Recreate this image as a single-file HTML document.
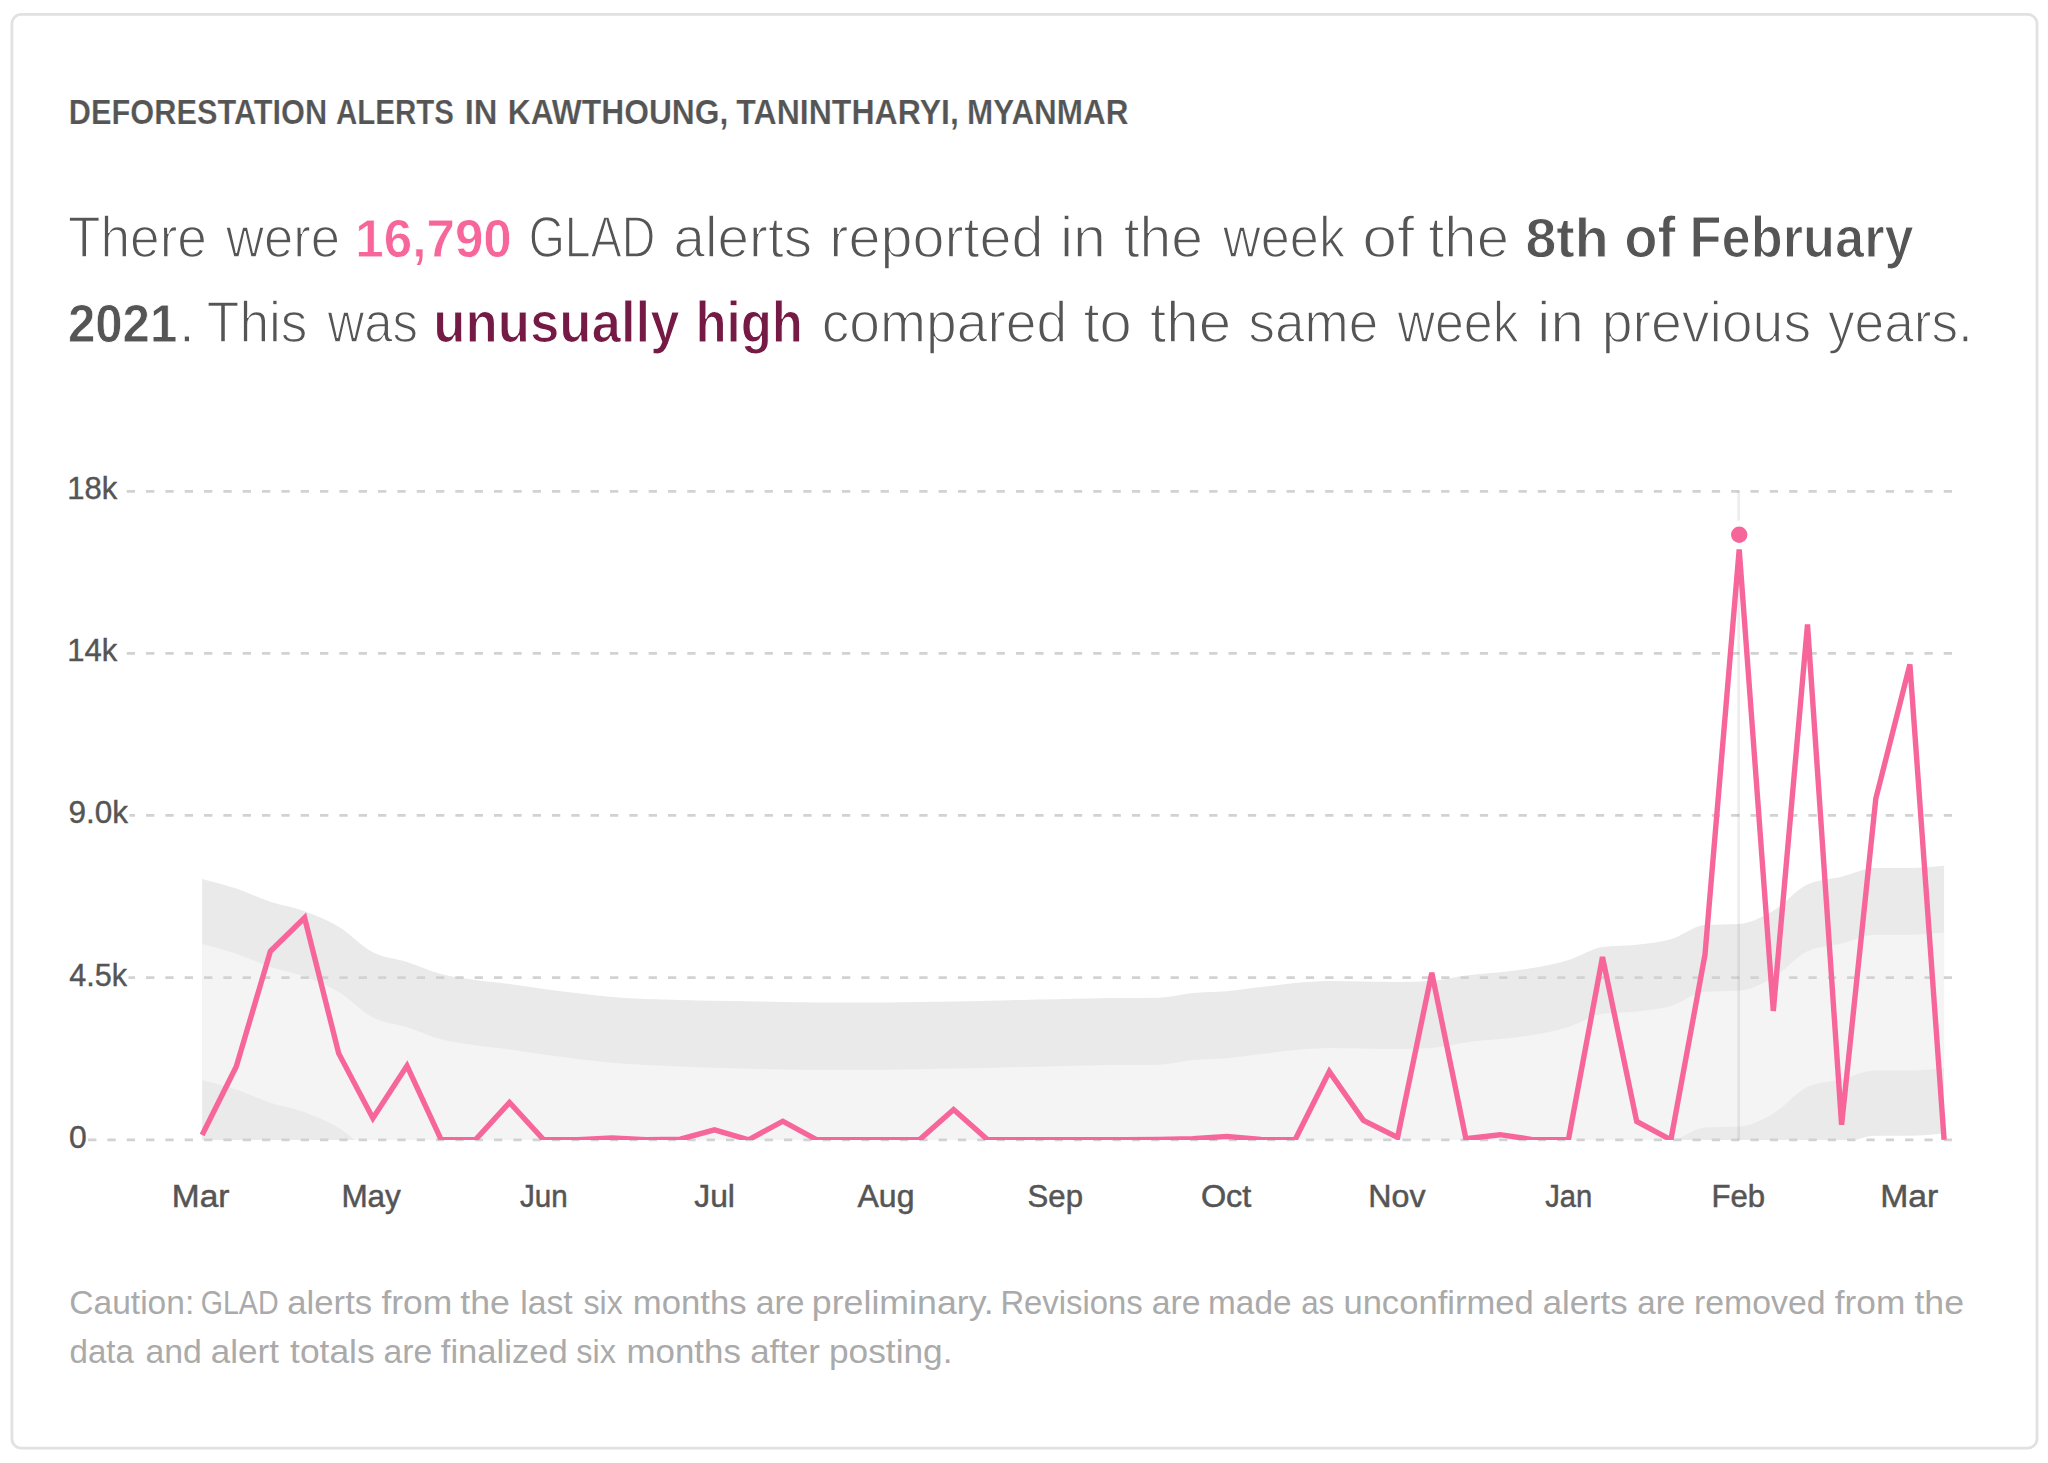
<!DOCTYPE html>
<html lang="en">
<head>
<meta charset="utf-8">
<title>Deforestation alerts in Kawthoung, Tanintharyi, Myanmar</title>
<style>
html,body{margin:0;padding:0;background:#fff;}
body{width:2048px;height:1463px;position:relative;overflow:hidden;font-family:"Liberation Sans",sans-serif;}
svg{position:absolute;left:0;top:0;}
svg text{font-family:"Liberation Sans",sans-serif;white-space:pre;}
</style>
</head>
<body>
<svg width="2048" height="1463" viewBox="0 0 2048 1463">
<rect id="card" x="11.9" y="14.35" width="2025.1" height="1433.8" rx="9.5" ry="9.5" fill="#fff" stroke="#e1e1e1" stroke-width="2.75"/>
<clipPath id="plot"><rect x="60" y="400" width="1940" height="740.0"/></clipPath>
<g id="bands" clip-path="url(#plot)">
<path d="M202.1,878.9C213.5,881.8 224.9,884.7 236.3,888.5C247.6,892.3 259.0,897.9 270.4,901.7C281.8,905.4 293.2,907.0 304.6,911.2C316.0,915.3 327.3,919.8 338.7,926.7C350.1,933.6 361.5,946.5 372.9,952.3C384.3,958.2 395.7,958.4 407.0,962.0C418.4,965.6 429.8,971.1 441.2,974.1C452.6,977.1 464.0,978.4 475.4,980.1C486.7,981.8 498.1,982.6 509.5,984.1C520.9,985.6 532.3,987.5 543.7,989.1C555.1,990.6 566.4,992.0 577.8,993.3C589.2,994.6 600.6,996.0 612.0,996.9C623.4,997.8 634.8,998.5 646.1,999.0C657.5,999.5 668.9,999.6 680.3,999.9C691.7,1000.2 703.1,1000.5 714.5,1000.7C725.8,1000.9 737.2,1000.9 748.6,1001.2C760.0,1001.4 771.4,1001.9 782.8,1002.1C794.2,1002.3 805.5,1002.4 816.9,1002.4C828.3,1002.4 839.7,1002.5 851.1,1002.5C862.5,1002.5 873.9,1002.5 885.2,1002.4C896.6,1002.4 908.0,1002.1 919.4,1001.9C930.8,1001.7 942.2,1001.6 953.6,1001.4C964.9,1001.2 976.3,1001.0 987.7,1000.7C999.1,1000.5 1010.5,1000.2 1021.9,999.9C1033.3,999.7 1044.6,999.4 1056.0,999.2C1067.4,998.9 1078.8,998.6 1090.2,998.4C1101.6,998.2 1113.0,998.2 1124.3,998.1C1135.7,998.0 1147.1,998.0 1158.5,997.8C1169.9,997.6 1181.3,994.1 1192.7,993.0C1204.0,991.9 1215.4,992.2 1226.8,991.2C1238.2,990.2 1249.6,988.5 1261.0,987.1C1272.4,985.8 1283.7,984.1 1295.1,983.0C1306.5,982.0 1317.9,981.0 1329.3,981.0C1340.7,981.0 1352.1,981.3 1363.4,981.5C1374.8,981.7 1386.2,982.1 1397.6,982.1C1409.0,982.1 1420.4,981.7 1431.8,981.0C1443.1,980.3 1454.5,976.9 1465.9,975.5C1477.3,974.0 1488.7,973.5 1500.1,972.2C1511.5,970.9 1522.8,969.8 1534.2,967.8C1545.6,965.8 1557.0,963.6 1568.4,960.1C1579.8,956.6 1591.2,948.4 1602.5,946.9C1613.9,945.5 1625.3,946.0 1636.7,944.7C1648.1,943.4 1659.5,942.5 1670.9,939.2C1682.2,935.9 1693.6,925.7 1705.0,924.9C1716.4,924.2 1727.8,924.6 1739.2,923.9C1750.6,923.1 1761.9,917.3 1773.3,910.7C1784.7,904.2 1796.1,889.5 1807.5,884.4C1818.9,879.2 1830.3,879.4 1841.6,876.7C1853.0,873.9 1864.4,867.9 1875.8,867.9C1887.2,867.9 1898.6,867.9 1909.9,867.9C1921.3,867.9 1932.7,866.8 1944.1,865.7L1944.1,1133.5C1932.7,1134.6 1921.3,1135.7 1909.9,1135.7C1898.6,1135.7 1887.2,1135.7 1875.8,1135.7C1864.4,1135.7 1853.0,1141.7 1841.6,1144.5C1830.3,1147.2 1818.9,1147.1 1807.5,1152.2C1796.1,1157.4 1784.7,1172.0 1773.3,1178.6C1761.9,1185.2 1750.6,1191.0 1739.2,1191.7C1727.8,1192.4 1716.4,1192.1 1705.0,1192.8C1693.6,1193.5 1682.2,1203.8 1670.9,1207.1C1659.5,1210.4 1648.1,1211.3 1636.7,1212.6C1625.3,1213.9 1613.9,1213.3 1602.5,1214.8C1591.2,1216.3 1579.8,1224.5 1568.4,1228.0C1557.0,1231.5 1545.6,1233.7 1534.2,1235.7C1522.8,1237.7 1511.5,1238.8 1500.1,1240.1C1488.7,1241.4 1477.3,1241.9 1465.9,1243.4C1454.5,1244.9 1443.1,1248.2 1431.8,1248.9C1420.4,1249.6 1409.0,1250.0 1397.6,1250.0C1386.2,1250.0 1374.8,1249.6 1363.4,1249.4C1352.1,1249.3 1340.7,1248.9 1329.3,1248.9C1317.9,1248.9 1306.5,1250.0 1295.1,1251.0C1283.7,1252.0 1272.4,1253.7 1261.0,1255.1C1249.6,1256.5 1238.2,1258.2 1226.8,1259.2C1215.4,1260.2 1204.0,1259.9 1192.7,1261.0C1181.3,1262.1 1169.9,1265.6 1158.5,1265.8C1147.1,1266.0 1135.7,1266.0 1124.3,1266.1C1113.0,1266.2 1101.6,1266.2 1090.2,1266.4C1078.8,1266.6 1067.4,1266.9 1056.0,1267.2C1044.6,1267.5 1033.3,1267.8 1021.9,1268.0C1010.5,1268.3 999.1,1268.6 987.7,1268.9C976.3,1269.1 964.9,1269.4 953.6,1269.6C942.2,1269.8 930.8,1270.0 919.4,1270.2C908.0,1270.4 896.6,1270.7 885.2,1270.7C873.9,1270.8 862.5,1270.8 851.1,1270.8C839.7,1270.8 828.3,1270.8 816.9,1270.8C805.5,1270.8 794.2,1270.7 782.8,1270.5C771.4,1270.3 760.0,1269.9 748.6,1269.7C737.2,1269.4 725.8,1269.2 714.5,1268.8C703.1,1268.5 691.7,1268.0 680.3,1267.5C668.9,1267.1 657.5,1266.7 646.1,1266.1C634.8,1265.4 623.4,1264.8 612.0,1263.8C600.6,1262.8 589.2,1261.4 577.8,1260.0C566.4,1258.7 555.1,1257.2 543.7,1255.6C532.3,1254.0 520.9,1252.0 509.5,1250.4C498.1,1248.9 486.7,1248.0 475.4,1246.3C464.0,1244.6 452.6,1243.3 441.2,1240.3C429.8,1237.3 418.4,1231.8 407.0,1228.2C395.7,1224.6 384.3,1224.4 372.9,1218.5C361.5,1212.7 350.1,1199.8 338.7,1192.9C327.3,1186.0 316.0,1181.5 304.6,1177.4C293.2,1173.2 281.8,1171.6 270.4,1167.9C259.0,1164.1 247.6,1158.5 236.3,1154.7C224.9,1150.9 213.5,1148.0 202.1,1145.1Z" fill="#eaeaea"/>
<path d="M202.1,944.1C213.5,947.0 224.9,949.9 236.3,953.7C247.6,957.5 259.0,963.1 270.4,966.9C281.8,970.6 293.2,972.2 304.6,976.4C316.0,980.5 327.3,985.0 338.7,991.9C350.1,998.8 361.5,1011.7 372.9,1017.5C384.3,1023.4 395.7,1023.6 407.0,1027.2C418.4,1030.8 429.8,1036.3 441.2,1039.3C452.6,1042.3 464.0,1043.6 475.4,1045.3C486.7,1047.0 498.1,1047.9 509.5,1049.4C520.9,1051.0 532.3,1053.0 543.7,1054.6C555.1,1056.2 566.4,1057.7 577.8,1059.0C589.2,1060.4 600.6,1061.8 612.0,1062.8C623.4,1063.8 634.8,1064.4 646.1,1065.1C657.5,1065.7 668.9,1066.1 680.3,1066.5C691.7,1067.0 703.1,1067.5 714.5,1067.8C725.8,1068.2 737.2,1068.4 748.6,1068.7C760.0,1068.9 771.4,1069.3 782.8,1069.5C794.2,1069.7 805.5,1069.8 816.9,1069.8C828.3,1069.8 839.7,1069.8 851.1,1069.8C862.5,1069.8 873.9,1069.8 885.2,1069.7C896.6,1069.7 908.0,1069.4 919.4,1069.2C930.8,1069.0 942.2,1068.8 953.6,1068.6C964.9,1068.4 976.3,1068.1 987.7,1067.9C999.1,1067.6 1010.5,1067.3 1021.9,1067.0C1033.3,1066.8 1044.6,1066.5 1056.0,1066.2C1067.4,1065.9 1078.8,1065.6 1090.2,1065.4C1101.6,1065.2 1113.0,1065.2 1124.3,1065.1C1135.7,1065.0 1147.1,1065.0 1158.5,1064.8C1169.9,1064.6 1181.3,1061.1 1192.7,1060.0C1204.0,1058.9 1215.4,1059.2 1226.8,1058.2C1238.2,1057.2 1249.6,1055.5 1261.0,1054.1C1272.4,1052.7 1283.7,1051.0 1295.1,1050.0C1306.5,1049.0 1317.9,1047.9 1329.3,1047.9C1340.7,1047.9 1352.1,1048.3 1363.4,1048.4C1374.8,1048.6 1386.2,1049.0 1397.6,1049.0C1409.0,1049.0 1420.4,1048.6 1431.8,1047.9C1443.1,1047.2 1454.5,1043.9 1465.9,1042.4C1477.3,1040.9 1488.7,1040.4 1500.1,1039.1C1511.5,1037.8 1522.8,1036.7 1534.2,1034.7C1545.6,1032.7 1557.0,1030.5 1568.4,1027.0C1579.8,1023.5 1591.2,1015.3 1602.5,1013.8C1613.9,1012.3 1625.3,1012.9 1636.7,1011.6C1648.1,1010.3 1659.5,1009.4 1670.9,1006.1C1682.2,1002.8 1693.6,992.5 1705.0,991.8C1716.4,991.1 1727.8,991.4 1739.2,990.7C1750.6,990.0 1761.9,984.2 1773.3,977.6C1784.7,971.0 1796.1,956.4 1807.5,951.2C1818.9,946.1 1830.3,946.2 1841.6,943.5C1853.0,940.7 1864.4,934.7 1875.8,934.7C1887.2,934.7 1898.6,934.7 1909.9,934.7C1921.3,934.7 1932.7,933.6 1944.1,932.5L1944.1,1068.3C1932.7,1069.4 1921.3,1070.5 1909.9,1070.5C1898.6,1070.5 1887.2,1070.5 1875.8,1070.5C1864.4,1070.5 1853.0,1076.5 1841.6,1079.3C1830.3,1082.0 1818.9,1081.9 1807.5,1087.0C1796.1,1092.2 1784.7,1106.8 1773.3,1113.4C1761.9,1120.0 1750.6,1125.8 1739.2,1126.5C1727.8,1127.2 1716.4,1126.9 1705.0,1127.6C1693.6,1128.3 1682.2,1138.6 1670.9,1141.9C1659.5,1145.2 1648.1,1146.1 1636.7,1147.4C1625.3,1148.7 1613.9,1148.1 1602.5,1149.6C1591.2,1151.1 1579.8,1159.3 1568.4,1162.8C1557.0,1166.3 1545.6,1168.5 1534.2,1170.5C1522.8,1172.5 1511.5,1173.6 1500.1,1174.9C1488.7,1176.2 1477.3,1176.7 1465.9,1178.2C1454.5,1179.7 1443.1,1183.0 1431.8,1183.7C1420.4,1184.4 1409.0,1184.8 1397.6,1184.8C1386.2,1184.8 1374.8,1184.4 1363.4,1184.2C1352.1,1184.1 1340.7,1183.7 1329.3,1183.7C1317.9,1183.7 1306.5,1184.8 1295.1,1185.8C1283.7,1186.8 1272.4,1188.5 1261.0,1189.9C1249.6,1191.3 1238.2,1193.0 1226.8,1194.0C1215.4,1195.0 1204.0,1194.7 1192.7,1195.8C1181.3,1196.9 1169.9,1200.4 1158.5,1200.6C1147.1,1200.8 1135.7,1200.8 1124.3,1200.9C1113.0,1201.0 1101.6,1201.0 1090.2,1201.2C1078.8,1201.4 1067.4,1201.7 1056.0,1202.0C1044.6,1202.3 1033.3,1202.6 1021.9,1202.8C1010.5,1203.1 999.1,1203.4 987.7,1203.7C976.3,1203.9 964.9,1204.2 953.6,1204.4C942.2,1204.6 930.8,1204.8 919.4,1205.0C908.0,1205.2 896.6,1205.5 885.2,1205.5C873.9,1205.6 862.5,1205.6 851.1,1205.6C839.7,1205.6 828.3,1205.6 816.9,1205.6C805.5,1205.6 794.2,1205.5 782.8,1205.3C771.4,1205.1 760.0,1204.7 748.6,1204.5C737.2,1204.2 725.8,1204.0 714.5,1203.6C703.1,1203.3 691.7,1202.8 680.3,1202.3C668.9,1201.9 657.5,1201.5 646.1,1200.9C634.8,1200.2 623.4,1199.6 612.0,1198.6C600.6,1197.6 589.2,1196.2 577.8,1194.8C566.4,1193.5 555.1,1192.0 543.7,1190.4C532.3,1188.8 520.9,1186.8 509.5,1185.2C498.1,1183.7 486.7,1182.8 475.4,1181.1C464.0,1179.4 452.6,1178.1 441.2,1175.1C429.8,1172.1 418.4,1166.6 407.0,1163.0C395.7,1159.4 384.3,1159.2 372.9,1153.3C361.5,1147.5 350.1,1134.6 338.7,1127.7C327.3,1120.8 316.0,1116.3 304.6,1112.2C293.2,1108.0 281.8,1106.4 270.4,1102.7C259.0,1098.9 247.6,1093.3 236.3,1089.5C224.9,1085.7 213.5,1082.8 202.1,1079.9Z" fill="#f4f4f4"/>
</g>
<g id="grid" stroke="#d2d2d2" stroke-width="2.75" stroke-dasharray="8.29 11.04" fill="none">
<path d="M68.75 491.3H1955"/>
<path d="M68.75 653.3H1955"/>
<path d="M68.75 815.4H1955"/>
<path d="M68.75 977.6H1955"/>
<path d="M68.75 1139.8H1955"/>
</g>
<path d="M1738.7 491.3V1139.8" stroke="#000" stroke-opacity="0.07" stroke-width="2.75" fill="none"/>
<g id="yaxis">
<rect x="60" y="483.3" width="58.4" height="16" fill="#fff"/>
<text transform="translate(67.14 499.30) scale(0.9692 1)" font-size="32" fill="#555" stroke="#555" stroke-width="0.4">18k</text>
<rect x="60" y="645.3" width="58.4" height="16" fill="#fff"/>
<text transform="translate(67.14 661.30) scale(0.9692 1)" font-size="32" fill="#555" stroke="#555" stroke-width="0.4">14k</text>
<rect x="60" y="807.4" width="69.4" height="16" fill="#fff"/>
<text transform="translate(68.55 823.40) scale(0.9852 1)" font-size="32" fill="#555" stroke="#555" stroke-width="0.4">9.0k</text>
<rect x="60" y="969.6" width="68.4" height="16" fill="#fff"/>
<text transform="translate(69.33 985.60) scale(0.9559 1)" font-size="32" fill="#555" stroke="#555" stroke-width="0.4">4.5k</text>
<rect x="60" y="1131.8" width="26.8" height="16" fill="#fff"/>
<text transform="translate(69.05 1147.80) scale(0.9982 1)" font-size="32" fill="#555" stroke="#555" stroke-width="0.4">0</text>
</g>
<g id="xaxis">
<text transform="translate(171.86 1207.40) scale(1.0786 1)" font-size="31" fill="#555" stroke="#555" stroke-width="0.5">Mar</text>
<text transform="translate(341.42 1207.40) scale(1.0151 1)" font-size="31" fill="#555" stroke="#555" stroke-width="0.5">May</text>
<text transform="translate(519.96 1207.40) scale(0.9553 1)" font-size="31" fill="#555" stroke="#555" stroke-width="0.5">Jun</text>
<text transform="translate(694.22 1207.40) scale(1.0268 1)" font-size="31" fill="#555" stroke="#555" stroke-width="0.5">Jul</text>
<text transform="translate(857.54 1207.40) scale(1.0320 1)" font-size="31" fill="#555" stroke="#555" stroke-width="0.5">Aug</text>
<text transform="translate(1027.60 1207.40) scale(1.0041 1)" font-size="31" fill="#555" stroke="#555" stroke-width="0.5">Sep</text>
<text transform="translate(1200.88 1207.40) scale(1.0459 1)" font-size="31" fill="#555" stroke="#555" stroke-width="0.5">Oct</text>
<text transform="translate(1368.26 1207.40) scale(1.0384 1)" font-size="31" fill="#555" stroke="#555" stroke-width="0.5">Nov</text>
<text transform="translate(1545.16 1207.40) scale(0.9427 1)" font-size="31" fill="#555" stroke="#555" stroke-width="0.5">Jan</text>
<text transform="translate(1711.55 1207.40) scale(1.0040 1)" font-size="31" fill="#555" stroke="#555" stroke-width="0.5">Feb</text>
<text transform="translate(1880.14 1207.40) scale(1.0865 1)" font-size="31" fill="#555" stroke="#555" stroke-width="0.5">Mar</text>
</g>
<path id="line" clip-path="url(#plot)" d="M202.1,1135.0L236.3,1066.5L270.4,951.2L304.6,917.8L338.7,1053.4L372.9,1118.2L407.0,1065.8L441.2,1139.8L475.4,1139.8L509.5,1102.5L543.7,1139.8L577.8,1139.8L612.0,1138.0L646.1,1139.8L680.3,1139.2L714.5,1129.8L748.6,1139.8L782.8,1121.2L816.9,1139.8L851.1,1139.8L885.2,1139.8L919.4,1139.8L953.6,1109.6L987.7,1139.8L1021.9,1139.8L1056.0,1139.8L1090.2,1139.8L1124.3,1139.8L1158.5,1139.5L1192.7,1138.8L1226.8,1136.4L1261.0,1139.5L1295.1,1139.8L1329.3,1071.6L1363.4,1120.4L1397.6,1137.4L1431.8,972.7L1465.9,1138.8L1500.1,1134.7L1534.2,1139.8L1568.4,1139.8L1602.5,957.0L1636.7,1121.5L1670.9,1139.8L1705.0,954.6L1739.2,549.4L1773.3,1010.9L1807.5,624.5L1841.6,1124.8L1875.8,798.7L1909.9,664.5L1944.1,1139.8" fill="none" stroke="#f7669a" stroke-width="5.4" stroke-linejoin="miter"/>
<circle cx="1739.2" cy="534.8" r="11.2" fill="#f7669a" stroke="#fff" stroke-width="6"/>
<g id="title">
<text transform="translate(68.87 123.50) scale(0.8633 1)" font-size="35.6" font-weight="700" fill="#555" stroke="#fff" stroke-width="0.2">DEFORESTATION</text>
<text transform="translate(335.99 123.50) scale(0.8291 1)" font-size="35.6" font-weight="700" fill="#555" stroke="#fff" stroke-width="0.2">ALERTS</text>
<text transform="translate(464.74 123.50) scale(0.9201 1)" font-size="35.6" font-weight="700" fill="#555" stroke="#fff" stroke-width="0.2">IN</text>
<text transform="translate(507.70 123.50) scale(0.8929 1)" font-size="35.6" font-weight="700" fill="#555" stroke="#fff" stroke-width="0.2">KAWTHOUNG,</text>
<text transform="translate(736.35 123.50) scale(0.9005 1)" font-size="35.6" font-weight="700" fill="#555" stroke="#fff" stroke-width="0.2">TANINTHARYI,</text>
<text transform="translate(967.12 123.50) scale(0.8832 1)" font-size="35.6" font-weight="700" fill="#555" stroke="#fff" stroke-width="0.2">MYANMAR</text>
</g>
<g id="sentence">
<text transform="translate(68.03 256.90) scale(0.9413 1)" font-size="56.5" fill="#555" stroke="#fff" stroke-width="1.4">There</text>
<text transform="translate(226.01 256.90) scale(0.9312 1)" font-size="56.5" fill="#555" stroke="#fff" stroke-width="1.4">were</text>
<text transform="translate(355.22 256.90) scale(0.9065 0.955)" font-size="56.5" font-weight="700" fill="#f7669a" stroke="#fff" stroke-width="0.8">16,790</text>
<text transform="translate(528.68 256.90) scale(0.8223 1)" font-size="56.5" fill="#555" stroke="#fff" stroke-width="1.4">GLAD</text>
<text transform="translate(673.52 256.90) scale(1.0020 1)" font-size="56.5" fill="#555" stroke="#fff" stroke-width="1.4">alerts</text>
<text transform="translate(829.30 256.90) scale(1.0184 1)" font-size="56.5" fill="#555" stroke="#fff" stroke-width="1.4">reported</text>
<text transform="translate(1059.90 256.90) scale(1.0461 1)" font-size="56.5" fill="#555" stroke="#fff" stroke-width="1.4">in</text>
<text transform="translate(1123.74 256.90) scale(1.0093 1)" font-size="56.5" fill="#555" stroke="#fff" stroke-width="1.4">the</text>
<text transform="translate(1223.10 256.90) scale(0.9243 1)" font-size="56.5" fill="#555" stroke="#fff" stroke-width="1.4">week</text>
<text transform="translate(1362.17 256.90) scale(1.1101 1)" font-size="56.5" fill="#555" stroke="#fff" stroke-width="1.4">of</text>
<text transform="translate(1428.23 256.90) scale(1.0279 1)" font-size="56.5" fill="#555" stroke="#fff" stroke-width="1.4">the</text>
<text transform="translate(1525.38 256.90) scale(0.9812 0.98)" font-size="56.5" font-weight="700" fill="#555" stroke="#fff" stroke-width="1.0">8th</text>
<text transform="translate(1624.27 256.90) scale(0.9659 1)" font-size="56.5" font-weight="700" fill="#555" stroke="#fff" stroke-width="1.2">of</text>
<text transform="translate(1689.54 256.90) scale(0.9274 1)" font-size="56.5" font-weight="700" fill="#555" stroke="#fff" stroke-width="1.2">February</text>
<text transform="translate(67.93 341.90) scale(0.8698 0.955)" font-size="56.5" font-weight="700" fill="#555" stroke="#fff" stroke-width="0.8">2021</text>
<text transform="translate(178.40 341.90) scale(1.0693 1)" font-size="56.5" fill="#555" stroke="#fff" stroke-width="1.4">.</text>
<text transform="translate(206.83 341.90) scale(0.9434 1)" font-size="56.5" fill="#555" stroke="#fff" stroke-width="1.4">This</text>
<text transform="translate(327.50 341.90) scale(0.9012 1)" font-size="56.5" fill="#555" stroke="#fff" stroke-width="1.4">was</text>
<text transform="translate(433.23 341.90) scale(0.9346 1)" font-size="56.5" font-weight="700" fill="#741a45" stroke="#fff" stroke-width="1.2">unusually</text>
<text transform="translate(695.38 341.90) scale(0.9028 1)" font-size="56.5" font-weight="700" fill="#741a45" stroke="#fff" stroke-width="1.2">high</text>
<text transform="translate(821.68 341.90) scale(0.9777 1)" font-size="56.5" fill="#555" stroke="#fff" stroke-width="1.4">compared</text>
<text transform="translate(1083.43 341.90) scale(1.0260 1)" font-size="56.5" fill="#555" stroke="#fff" stroke-width="1.4">to</text>
<text transform="translate(1150.03 341.90) scale(1.0319 1)" font-size="56.5" fill="#555" stroke="#fff" stroke-width="1.4">the</text>
<text transform="translate(1248.57 341.90) scale(0.9386 1)" font-size="56.5" fill="#555" stroke="#fff" stroke-width="1.4">same</text>
<text transform="translate(1397.50 341.90) scale(0.9183 1)" font-size="56.5" fill="#555" stroke="#fff" stroke-width="1.4">week</text>
<text transform="translate(1536.90 341.90) scale(1.0734 1)" font-size="56.5" fill="#555" stroke="#fff" stroke-width="1.4">in</text>
<text transform="translate(1601.65 341.90) scale(0.9811 1)" font-size="56.5" fill="#555" stroke="#fff" stroke-width="1.4">previous</text>
<text transform="translate(1827.89 341.90) scale(0.9428 1)" font-size="56.5" fill="#555" stroke="#fff" stroke-width="1.4">years.</text>
</g>
<g id="caption">
<text transform="translate(69.22 1313.75) scale(1.0024 1)" font-size="33.5" fill="#aaaaaa">Caution:</text>
<text transform="translate(200.77 1313.75) scale(0.8526 1)" font-size="33.5" fill="#aaaaaa">GLAD</text>
<text transform="translate(287.29 1313.75) scale(1.0360 1)" font-size="33.5" fill="#aaaaaa">alerts</text>
<text transform="translate(381.40 1313.75) scale(1.0582 1)" font-size="33.5" fill="#aaaaaa">from</text>
<text transform="translate(460.36 1313.75) scale(1.0653 1)" font-size="33.5" fill="#aaaaaa">the</text>
<text transform="translate(520.24 1313.75) scale(1.0071 1)" font-size="33.5" fill="#aaaaaa">last</text>
<text transform="translate(583.53 1313.75) scale(0.9598 1)" font-size="33.5" fill="#aaaaaa">six</text>
<text transform="translate(632.71 1313.75) scale(1.0364 1)" font-size="33.5" fill="#aaaaaa">months</text>
<text transform="translate(755.78 1313.75) scale(1.0082 1)" font-size="33.5" fill="#aaaaaa">are</text>
<text transform="translate(811.81 1313.75) scale(1.0667 1)" font-size="33.5" fill="#aaaaaa">preliminary.</text>
<text transform="translate(1000.41 1313.75) scale(0.9804 1)" font-size="33.5" fill="#aaaaaa">Revisions</text>
<text transform="translate(1151.68 1313.75) scale(1.0082 1)" font-size="33.5" fill="#aaaaaa">are</text>
<text transform="translate(1208.10 1313.75) scale(0.9950 1)" font-size="33.5" fill="#aaaaaa">made</text>
<text transform="translate(1301.19 1313.75) scale(0.9340 1)" font-size="33.5" fill="#aaaaaa">as</text>
<text transform="translate(1343.39 1313.75) scale(1.0330 1)" font-size="33.5" fill="#aaaaaa">unconfirmed</text>
<text transform="translate(1542.64 1313.75) scale(1.0360 1)" font-size="33.5" fill="#aaaaaa">alerts</text>
<text transform="translate(1637.36 1313.75) scale(0.9884 1)" font-size="33.5" fill="#aaaaaa">are</text>
<text transform="translate(1694.02 1313.75) scale(1.0092 1)" font-size="33.5" fill="#aaaaaa">removed</text>
<text transform="translate(1834.81 1313.75) scale(1.0536 1)" font-size="33.5" fill="#aaaaaa">from</text>
<text transform="translate(1914.46 1313.75) scale(1.0653 1)" font-size="33.5" fill="#aaaaaa">the</text>
<text transform="translate(69.51 1363.20) scale(0.9888 1)" font-size="33.5" fill="#aaaaaa">data</text>
<text transform="translate(145.48 1363.20) scale(1.0090 1)" font-size="33.5" fill="#aaaaaa">and</text>
<text transform="translate(210.73 1363.20) scale(1.0472 1)" font-size="33.5" fill="#aaaaaa">alert</text>
<text transform="translate(290.07 1363.20) scale(1.0567 1)" font-size="33.5" fill="#aaaaaa">totals</text>
<text transform="translate(383.58 1363.20) scale(1.0082 1)" font-size="33.5" fill="#aaaaaa">are</text>
<text transform="translate(440.77 1363.20) scale(1.0337 1)" font-size="33.5" fill="#aaaaaa">finalized</text>
<text transform="translate(576.33 1363.20) scale(0.9673 1)" font-size="33.5" fill="#aaaaaa">six</text>
<text transform="translate(626.45 1363.20) scale(1.0425 1)" font-size="33.5" fill="#aaaaaa">months</text>
<text transform="translate(750.13 1363.20) scale(1.0416 1)" font-size="33.5" fill="#aaaaaa">after</text>
<text transform="translate(828.99 1363.20) scale(1.0534 1)" font-size="33.5" fill="#aaaaaa">posting.</text>
</g>
</svg>
</body>
</html>
